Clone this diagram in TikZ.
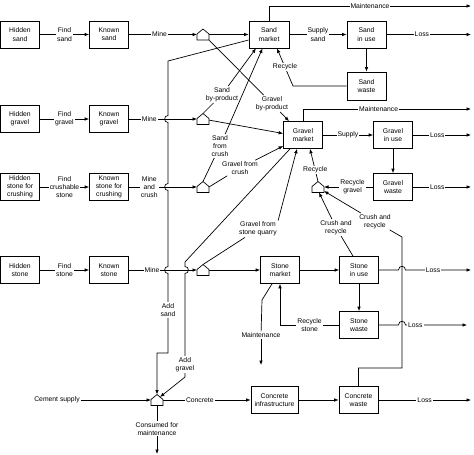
\documentclass[tikz,border=0pt]{standalone}
\usepackage{fontspec}
\setmainfont{Liberation Sans}
\usetikzlibrary{arrows.meta}
\begin{document}
\begin{tikzpicture}[x=1pt,y=-1pt,
  font=\fontsize{6.8}{8.2}\selectfont,
  ln/.style={line width=0.7pt},
  arr/.style={ln,-{Latex[length=4.5pt,width=3.6pt]}},
  box/.style={draw,line width=0.7pt,minimum width=39pt,minimum height=27pt,inner sep=1pt,align=center},
  house/.style={minimum width=12pt,minimum height=11pt,inner sep=0pt,outer sep=0pt},
  lbl/.style={fill=white,inner sep=1pt,align=center},
  tag/.style={inner sep=1pt,align=center},
]
\useasboundingbox (0,0) rectangle (474,455);
% boxes
\node[box] (hsand) at (20,34.5) {Hidden\\sand};
\node[box] (ksand) at (109,34.5) {Known\\sand};
\node[box,minimum width=40pt] (smarket) at (269,34.5) {Sand\\market};
\node[box] (sinuse) at (366.5,34.5) {Sand\\in use};
\node[box,minimum height=28pt] (swaste) at (366.5,86) {Sand\\waste};
\node[box] (hgravel) at (20,119) {Hidden\\gravel};
\node[box] (kgravel) at (109,119) {Known\\gravel};
\node[box] (gmarket) at (303,135) {Gravel\\market};
\node[box] (ginuse) at (393,135) {Gravel\\in use};
\node[box] (gwaste) at (393,187) {Gravel\\waste};
\node[box] (hcrush) at (20,187) {Hidden\\stone for\\crushing};
\node[box] (kcrush) at (109,187) {Known\\stone for\\crushing};
\node[box] (hstone) at (20,270) {Hidden\\stone};
\node[box] (kstone) at (109,270) {Known\\stone};
\node[box] (stmarket) at (280,270) {Stone\\market};
\node[box] (stinuse) at (359,270) {Stone\\in use};
\node[box] (stwaste) at (359,325) {Stone\\waste};
\node[box,minimum width=47pt] (cinfra) at (274.5,400) {Concrete\\infrastructure};
\node[box] (cwaste) at (358.5,400) {Concrete\\waste};
% houses (mixing points)
\node[house] (psand) at (203,34.5) {};
\node[house] (pgravel) at (203,119) {};
\node[house] (pcrush) at (203,187) {};
\node[house] (pstone) at (203,270) {};
\node[house] (precyc) at (318,187) {};
\node[house] (pconc) at (157,400) {};
% free labels
\node[lbl] (sbp) at (222,94.5) {Sand\\by-product};
\node[lbl] (gbp) at (272,103.5) {Gravel\\by-product};
\node[lbl] (sfc) at (220,146) {Sand\\from\\crush};
\node[lbl] (gfc) at (240,168) {Gravel from\\crush};
\node[lbl] (gfsq) at (258,229) {Gravel from\\stone quarry};
\node[lbl] (car1) at (336,227.5) {Crush and\\recycle};
\node[lbl] (car2) at (375,221.5) {Crush and\\recycle};
\node[lbl] (mst) at (261,335) {Maintenance};
\node[tag] (cem) at (57,400) {Cement supply};
% free ends
\coordinate (mS1) at (269,6); \coordinate (mS2) at (471,6);
\coordinate (lossS) at (471,34.5);
\coordinate (mG1) at (303,109); \coordinate (mG2) at (471,109);
\coordinate (lossGu) at (471,135);
\coordinate (lossGw) at (471,187);
\coordinate (lossSu) at (471,270);
\coordinate (lossSw) at (467,325);
\coordinate (mSt) at (261,365);
\coordinate (lossC) at (471,400);
\coordinate (consumed) at (157,454);
% sand row
\draw[arr] (hsand) -- node[lbl]{Find\\sand} (ksand);
\draw[arr] (ksand) -- node[lbl,pos=0.45]{Mine} (psand);
\draw[arr] (psand) -- (smarket);
\draw[arr] (smarket) -- node[lbl]{Supply\\sand} (sinuse);
\draw[arr] (sinuse) -- node[lbl,pos=0.42]{Loss} (lossS);
\draw[arr] (sinuse) -- (swaste);
\draw[arr] (swaste.west) -- (293,86) -- node[lbl]{Recycle} ([xshift=8pt]smarket.south);
\draw[arr] (smarket.north) -- (mS1) -- node[lbl]{Maintenance} (mS2);
% gravel row
\draw[arr] (hgravel) -- node[lbl]{Find\\gravel} (kgravel);
\draw[arr] (kgravel) -- node[lbl,pos=0.3]{Mine} (pgravel);
\draw[arr] (pgravel) -- ([yshift=1.5pt]gmarket.west);
\draw[arr] (gmarket) -- node[lbl]{Supply} (ginuse);
\draw[arr] (ginuse) -- node[lbl,pos=0.42]{Loss} (lossGu);
\draw[arr] (ginuse) -- (gwaste);
\draw[arr] (gwaste) -- node[lbl,pos=0.42]{Loss} (lossGw);
\draw[arr] (gwaste) -- node[lbl,pos=0.42]{Recycle\\gravel} (precyc);
\draw[arr] (precyc.north) -- node[lbl,pos=0.35]{Recycle} ([xshift=7pt]gmarket.south);
\draw[arr] (gmarket.north) -- (mG1) -- node[lbl,pos=0.45]{Maintenance} (mG2);
% crush row
\draw[arr] (hcrush) -- node[lbl]{Find\\crushable\\stone} (kcrush);
\draw[arr] (kcrush) -- node[lbl,pos=0.3]{Mine\\and\\crush} (pcrush);
% stone row
\draw[arr] (hstone) -- node[lbl]{Find\\stone} (kstone);
\draw[arr] (kstone) -- node[lbl,pos=0.34]{Mine} (pstone);
\draw[arr] (pstone) -- (stmarket);
\draw[arr] (stmarket) -- (stinuse);
\draw[arr] (stinuse) -- (398.5,270) .. controls (398.5,265) and (405.5,265) .. (405.5,270) -- node[lbl,pos=0.42]{Loss} (lossSu);
\draw[arr] (stinuse) -- (stwaste);
\draw[arr] (stwaste) -- (398.5,325) .. controls (398.5,320) and (405.5,320) .. (405.5,325) -- node[lbl,pos=0.16]{Loss} (lossSw);
\draw[arr] (stwaste.west) -- node[lbl,pos=0.5]{Recycle\\stone} (stmarket.south |- stwaste.west) -- (stmarket.south);
\draw[ln] ([xshift=-8pt]stmarket.south) -- (262,300) -- (mst);
\draw[arr] (mst) -- (mSt);
% concrete row
\draw[arr] (cem) -- (pconc);
\draw[arr] (pconc) -- node[lbl,pos=0.42]{Concrete} (cinfra);
\draw[arr] (cinfra) -- (cwaste);
\draw[arr] (cwaste) -- node[lbl]{Loss} (lossC);
\draw[arr] (pconc) -- node[lbl,pos=0.48]{Consumed for\\maintenance} (consumed);
% cross links
\draw[arr] (psand.south east) -- (gbp) -- ([xshift=-14pt]gmarket.north);
\draw[arr] (pgravel.north) -- (sbp) -- ([xshift=-13pt]smarket.south);
\draw[arr] (pcrush.north) -- (sfc) -- ([xshift=-6.5pt]smarket.south);
\draw[arr] (pcrush.east) -- (gfc) -- ([yshift=-11pt]gmarket.west);
\draw[ln] (pstone.north) -- (gfsq);
\draw[arr] (gfsq.north east) -- ([xshift=-6pt]gmarket.south);
\draw[arr] ([xshift=-6pt]stinuse.north) -- (car1) -- ([xshift=1pt]precyc.south);
\draw[arr] (cwaste.north) -- (358.5,368) -- (402,368) -- (402,237) -- (car2) -- ([yshift=-4pt]precyc.east);
% add sand
\draw[arr] ([yshift=-5.5pt]smarket.west) -- (168,61)
  -- (168,115.5) .. controls (163.5,115.5) and (163.5,122.5) .. (168,122.5)
  -- (168,183.5) .. controls (163.5,183.5) and (163.5,190.5) .. (168,190.5)
  -- (168,266.5) .. controls (163.5,266.5) and (163.5,273.5) .. (168,273.5)
  -- node[lbl,pos=0.46]{Add\\sand} (168,353) -- (157,353) -- (pconc.north);
% add gravel
\draw[arr] ([xshift=-13pt]gmarket.south) -- (185,262)
  -- (185,266.5) .. controls (189.5,266.5) and (189.5,273.5) .. (185,273.5)
  -- node[lbl,pos=0.88]{Add\\gravel} (185,377) -- ([xshift=3pt,yshift=-2.5pt]pconc.north);
% house outlines
\foreach \n in {psand,pgravel,pcrush,pstone,precyc,pconc}
  \draw[ln,fill=white] (\n.south west) -- (\n.south east) -- ([yshift=6pt]\n.south east) -- (\n.north) -- ([yshift=6pt]\n.south west) -- cycle;
\end{tikzpicture}
\end{document}
